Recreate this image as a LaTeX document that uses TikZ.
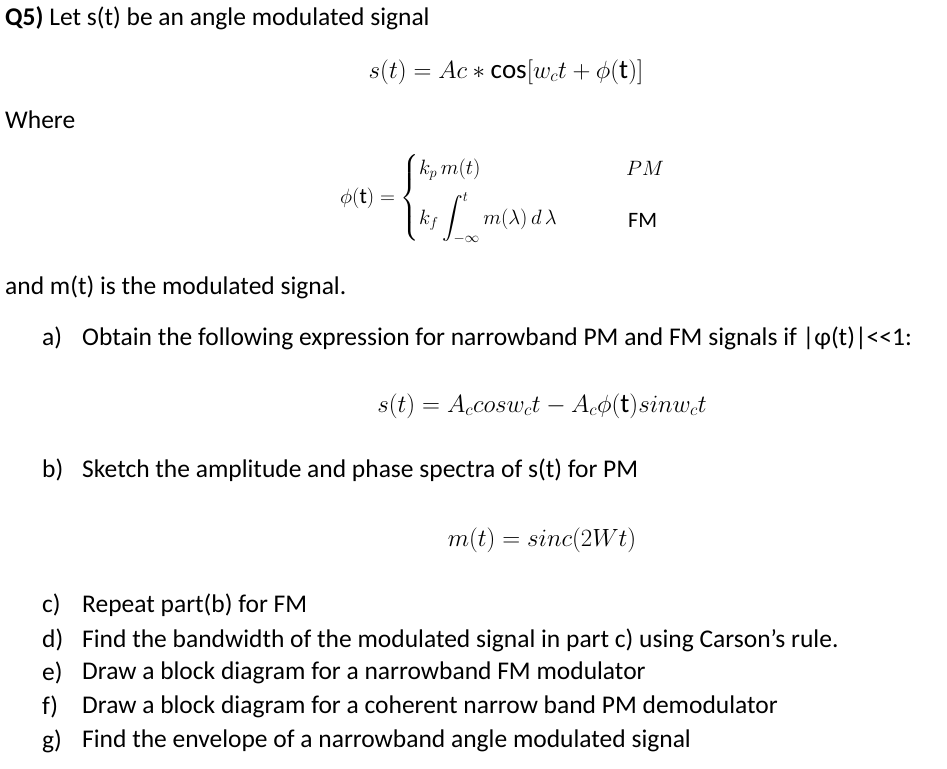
\documentclass[tikz,border=0pt]{standalone}
\usepackage{amsmath}
\usepackage{fontspec}
\setmainfont{Carlito}
\begin{document}
\begin{tikzpicture}[x=1pt,y=-1pt,
  txt/.style={anchor=west,inner sep=0pt,font=\fontsize{25.5}{30}\selectfont},
  eq/.style={anchor=center,inner sep=0pt,font=\fontsize{27}{32}\selectfont},
  eqs/.style={anchor=west,inner sep=0pt,font=\fontsize{22}{27}\selectfont}]
\useasboundingbox[fill=white] (0,0) rectangle (947,768);
\node[txt] (q) at (5,18) {\textbf{Q5)} Let s(t) be an angle modulated signal};
\node[eq] (e1) at (506,72) {$s(t) = Ac * \cos[w_c t + \phi(\mathrm{t})]$};
\node[txt] (w) at (5,120) {Where};
\node[eqs] (phi) at (340,198) {$\phi(\mathrm{t}) =
 \begin{cases} k_p\, m(t) \\[8pt] k_f \displaystyle\int_{-\infty}^{t} m(\lambda)\,d\,\lambda \end{cases}$};
\node[eqs] (pm) at (626,168) {$PM$};
\node[eqs] (fm) at (628,220) {FM};
\node[txt] (m) at (5,287) {and m(t) is the modulated signal.};
\node[txt] (a) at (42,338) {a)};
\node[txt] (at) at (82,338) {Obtain the following expression for narrowband PM and FM signals if |φ(t)|<{}<1:};
\node[eq] (e2) at (542,406) {$s(t) = A_c cos w_c t - A_c \phi(\mathrm{t}) sin w_c t$};
\node[txt] (b) at (42,470) {b)};
\node[txt] (bt) at (82,470) {Sketch the amplitude and phase spectra of s(t) for PM};
\node[eq] (e3) at (542,540) {$m(t) = sinc(2Wt)$};
\node[txt] (c) at (42,605) {c)};
\node[txt] (ct) at (82,605) {Repeat part(b) for FM};
\node[txt] (d) at (42,640) {d)};
\node[txt] (dt) at (82,640) {Find the bandwidth of the modulated signal in part c) using Carson’s rule.};
\node[txt] (e) at (42,673) {e)};
\node[txt] (et) at (82,673) {Draw a block diagram for a narrowband FM modulator};
\node[txt] (f) at (42,707) {f)};
\node[txt] (ft) at (82,707) {Draw a block diagram for a coherent narrow band PM demodulator};
\node[txt] (g) at (42,741) {g)};
\node[txt] (gt) at (82,741) {Find the envelope of a narrowband angle modulated signal};
\end{tikzpicture}
\end{document}
